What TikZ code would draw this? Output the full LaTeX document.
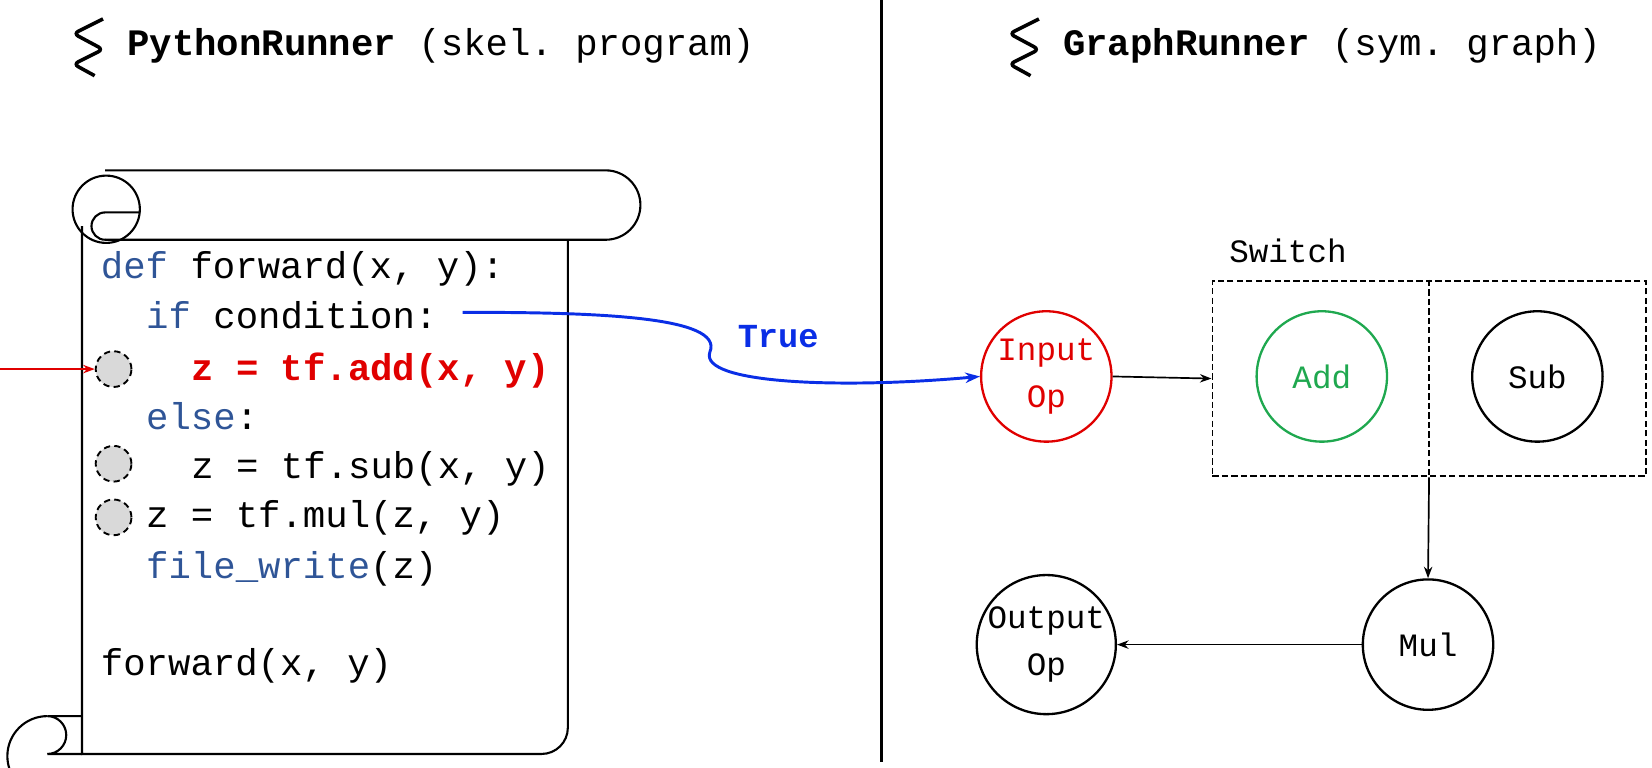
\documentclass[tikz,border=0pt]{standalone}
\usepackage{fontspec}
\setmonofont{Liberation Mono}
\usetikzlibrary{arrows.meta}
\definecolor{kw}{HTML}{2F5597}
\definecolor{hot}{HTML}{E00000}
\definecolor{okg}{HTML}{1FA84F}
\definecolor{tru}{HTML}{0A2EE6}
\begin{document}
\begin{tikzpicture}[x=1pt,y=-1pt,line width=2pt,
  code/.style={anchor=base west,inner sep=0pt,font=\fontsize{35.5}{40}\selectfont\ttfamily},
  head/.style={anchor=base west,inner sep=0pt,font=\fontsize{35.5}{40}\selectfont\ttfamily},
  op/.style={circle,draw,line width=2.2pt,minimum size=124pt,inner sep=0pt,align=center,font=\fontsize{31}{44}\selectfont\ttfamily},
  bp/.style={circle,draw,dash pattern=on 6pt off 4pt,fill=black!15,minimum size=34pt,inner sep=0pt,line width=1.8pt},
  dsh/.style={dash pattern=on 6pt off 3pt,line width=1.8pt},
  sq/.style={line width=3.4pt,rounded corners=5pt},
  arr/.style={-{Stealth[length=11pt,width=8pt]},line width=1.6pt}]
\useasboundingbox (0,0) rectangle (1571,730);
% headers
\draw[sq] (98,18) -- (70,32) -- (98,47) -- (70,61) -- (90,72);
\node[head] (h1) at (120,53) {\textbf{PythonRunner} (skel. program)};
\draw[sq] (988,18) -- (960,32) -- (988,47) -- (960,61) -- (980,72);
\node[head] (h2) at (1010,53) {\textbf{GraphRunner} (sym. graph)};
\draw[line width=3.2pt] (838,0) -- (838,725);
% scroll
\draw (100,162) -- (576,162) arc[start angle=270,end angle=450,radius=33] -- (100,228);
\draw (101,199) circle[radius=32];
\draw (132,202) -- (100,202) arc[start angle=270,end angle=90,radius=13];
\draw (78,215) -- (78,717) -- (515,717) arc[start angle=90,end angle=0,radius=25] -- (540,228);
\draw (78,681) -- (45,681) arc[start angle=270,end angle=450,radius=18] -- (78,717);
\draw (45,681) arc[start angle=270,end angle=140,radius=38];
% code
\node[code,text=kw] (l1) at (95,265) {def {\color{black}forward(x, y):}};
\node[code,text=kw] (l2) at (138,312) {if {\color{black}condition:}};
\node[code,text=hot] (l3) at (181,362) {\textbf{z = tf.add(x, y)}};
\node[code,text=kw] (l4) at (138,408) {else{\color{black}:}};
\node[code] (l5) at (181,455) {z = tf.sub(x, y)};
\node[code] (l6) at (138,502) {z = tf.mul(z, y)};
\node[code,text=kw] (l7) at (138,550) {file\_write{\color{black}(z)}};
\node[code] (l8) at (95,642) {forward(x, y)};
\node[bp] (b1) at (108,351) {};
\node[bp] (b2) at (108,441) {};
\node[bp] (b3) at (108,492) {};
\coordinate (ra) at (0,351);
\draw[arr,hot,line width=2.4pt] (ra) -- (b1.west);
% graph
\node[op,draw=hot,text=hot] (in) at (995,358) {Input\\Op};
\node[draw,dsh,minimum width=412pt,minimum height=186pt,inner sep=0pt] (sw) at (1359,360) {};
\draw[dsh] (sw.north) -- (sw.south);
\node[anchor=base west,inner sep=0pt,font=\fontsize{31}{36}\selectfont\ttfamily] (swl) at (1168,250) {Switch};
\node[op,draw=okg,text=okg] (add) at (1257,358) {Add};
\node[op] (sub) at (1462,358) {Sub};
\node[op] (mul) at (1358,613) {Mul};
\node[op] (out) at (995,613) {Output\\Op};
\draw[arr] (in.east) -- (sw.west);
\draw[arr] (sw.south) -- (mul.north);
\draw[arr] (mul.west) -- (out.east);
\coordinate (cs) at (440,297);
\draw[-{Stealth[length=14pt,width=10pt]},tru,line width=2.8pt] (cs) .. controls (560,297) and (690,300) .. (675,335) .. controls (665,365) and (800,370) .. (in.west);
\node[anchor=base,text=tru,font=\fontsize{32}{36}\selectfont\ttfamily\bfseries] (tl) at (740,330) {True};
\end{tikzpicture}
\end{document}
